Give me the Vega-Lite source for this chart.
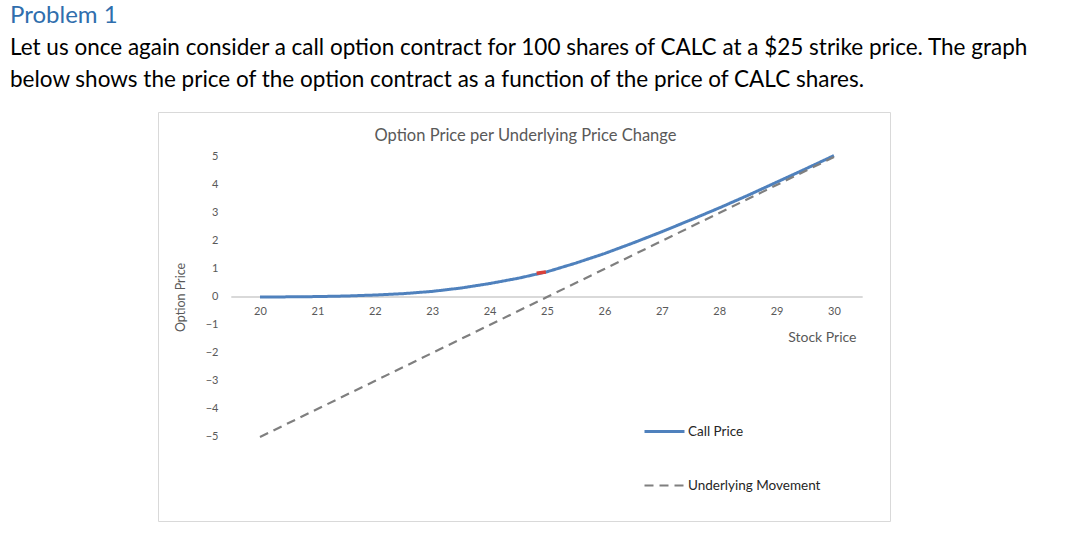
{
  "$schema": "https://vega.github.io/schema/vega-lite/v6.json",
  "autosize": "none",
  "width": 732,
  "height": 409,
  "padding": {"left": 158, "top": 112, "right": 196, "bottom": 33},
  "background": "white",
  "config": {
    "font": "Lato",
    "view": {"stroke": "#D9D9D9", "strokeWidth": 1}
  },
  "title": {
    "text": "Problem 1",
    "subtitle": [
      "Let us once again consider a call option contract for 100 shares of CALC at a $25 strike price.  The graph",
      "below shows the price of the option contract as a function of the price of CALC shares."
    ],
    "anchor": "start",
    "frame": "group",
    "dx": -148,
    "offset": 21,
    "font": "Lato",
    "fontSize": 24,
    "fontWeight": "normal",
    "color": "#2F6EAD",
    "subtitleFont": "Lato",
    "subtitleFontSize": 22.5,
    "subtitleColor": "#000000",
    "subtitleLineHeight": 32,
    "subtitlePadding": 9
  },
  "datasets": {
    "prices": [
      {"price": 20, "series": "Call Price", "value": 0.0},
      {"price": 20.5, "series": "Call Price", "value": 0.005},
      {"price": 21, "series": "Call Price", "value": 0.015},
      {"price": 21.5, "series": "Call Price", "value": 0.035},
      {"price": 22, "series": "Call Price", "value": 0.07},
      {"price": 22.5, "series": "Call Price", "value": 0.12},
      {"price": 23, "series": "Call Price", "value": 0.2},
      {"price": 23.5, "series": "Call Price", "value": 0.32},
      {"price": 24, "series": "Call Price", "value": 0.48},
      {"price": 24.5, "series": "Call Price", "value": 0.67},
      {"price": 25, "series": "Call Price", "value": 0.9},
      {"price": 25.5, "series": "Call Price", "value": 1.21},
      {"price": 26, "series": "Call Price", "value": 1.55},
      {"price": 26.5, "series": "Call Price", "value": 1.93},
      {"price": 27, "series": "Call Price", "value": 2.33},
      {"price": 27.5, "series": "Call Price", "value": 2.75},
      {"price": 28, "series": "Call Price", "value": 3.18},
      {"price": 28.5, "series": "Call Price", "value": 3.63},
      {"price": 29, "series": "Call Price", "value": 4.1},
      {"price": 29.5, "series": "Call Price", "value": 4.57},
      {"price": 30, "series": "Call Price", "value": 5.05},
      {"price": 20, "series": "Underlying Movement", "value": -5},
      {"price": 21, "series": "Underlying Movement", "value": -4},
      {"price": 22, "series": "Underlying Movement", "value": -3},
      {"price": 23, "series": "Underlying Movement", "value": -2},
      {"price": 24, "series": "Underlying Movement", "value": -1},
      {"price": 25, "series": "Underlying Movement", "value": 0},
      {"price": 26, "series": "Underlying Movement", "value": 1},
      {"price": 27, "series": "Underlying Movement", "value": 2},
      {"price": 28, "series": "Underlying Movement", "value": 3},
      {"price": 29, "series": "Underlying Movement", "value": 4},
      {"price": 30, "series": "Underlying Movement", "value": 5}
    ],
    "marker": [
      {"price": 24.82, "value": 0.85},
      {"price": 24.98, "value": 0.89}
    ],
    "zeroline": [
      {"start": 19.5, "end": 30.5, "level": 0}
    ]
  },
  "layer": [
    {
      "data": {"name": "zeroline"},
      "mark": {"type": "rule", "color": "#D9D9D9", "strokeWidth": 2},
      "encoding": {
        "x": {"field": "start", "type": "quantitative", "axis": null},
        "x2": {"field": "end"},
        "y": {"field": "level", "type": "quantitative"}
      }
    },
    {
      "data": {"name": "prices"},
      "mark": {"type": "line", "strokeCap": "butt"},
      "encoding": {
        "x": {
          "field": "price",
          "type": "quantitative",
          "scale": {"domain": [18.223, 30.976], "nice": false, "zero": false},
          "axis": {
            "orient": "bottom",
            "offset": -224,
            "values": [20, 21, 22, 23, 24, 25, 26, 27, 28, 29, 30],
            "domain": false,
            "ticks": false,
            "grid": false,
            "labelPadding": 8,
            "labelFontSize": 11,
            "labelColor": "#595959",
            "title": "Stock Price",
            "titleX": 698,
            "titleY": 40,
            "titleAlign": "right",
            "titleBaseline": "middle",
            "titleFontSize": 14,
            "titleFontWeight": "normal",
            "titleColor": "#595959"
          }
        },
        "y": {
          "field": "value",
          "type": "quantitative",
          "scale": {"domain": [-8.0, 6.607], "nice": false, "zero": false},
          "axis": {
            "orient": "left",
            "offset": -62,
            "values": [-5, -4, -3, -2, -1, 0, 1, 2, 3, 4, 5],
            "domain": false,
            "ticks": false,
            "grid": false,
            "labelPadding": 2,
            "labelFontSize": 11,
            "labelColor": "#595959",
            "title": "Option Price",
            "titleX": -40,
            "titleY": 185,
            "titleAngle": 270,
            "titleAlign": "center",
            "titleBaseline": "middle",
            "titleFontSize": 12.5,
            "titleFontWeight": "normal",
            "titleColor": "#595959"
          }
        },
        "color": {
          "field": "series",
          "type": "nominal",
          "scale": {"domain": ["Call Price", "Underlying Movement"], "range": ["#4F81BD", "#7F7F7F"]},
          "legend": {
            "orient": "none",
            "legendX": 485,
            "legendY": 298,
            "title": null,
            "symbolType": "stroke",
            "symbolSize": 1600,
            "rowPadding": 26,
            "labelOffset": 2,
            "labelFontSize": 13.5,
            "labelColor": "#262626"
          }
        },
        "strokeDash": {
          "field": "series",
          "type": "nominal",
          "scale": {"domain": ["Call Price", "Underlying Movement"], "range": [[1, 0], [9, 6]]}
        },
        "strokeWidth": {
          "field": "series",
          "type": "nominal",
          "scale": {"domain": ["Call Price", "Underlying Movement"], "range": [3, 2.2]}
        }
      }
    },
    {
      "data": {"name": "marker"},
      "mark": {"type": "line", "color": "#D9413A", "strokeWidth": 3.5},
      "encoding": {
        "x": {"field": "price", "type": "quantitative", "axis": null},
        "y": {"field": "value", "type": "quantitative"}
      }
    },
    {
      "data": {"name": "marker"},
      "mark": {"type": "point", "opacity": 0},
      "encoding": {
        "x": {
          "field": "price",
          "type": "quantitative",
          "axis": {
            "orient": "top",
            "labels": false,
            "ticks": false,
            "domain": false,
            "grid": false,
            "title": "Option Price per Underlying Price Change",
            "titleX": 367,
            "titleY": 23,
            "titleAlign": "center",
            "titleBaseline": "middle",
            "titleFontSize": 16.5,
            "titleFontWeight": "normal",
            "titleColor": "#595959"
          }
        },
        "y": {"field": "value", "type": "quantitative"}
      }
    }
  ]
}
